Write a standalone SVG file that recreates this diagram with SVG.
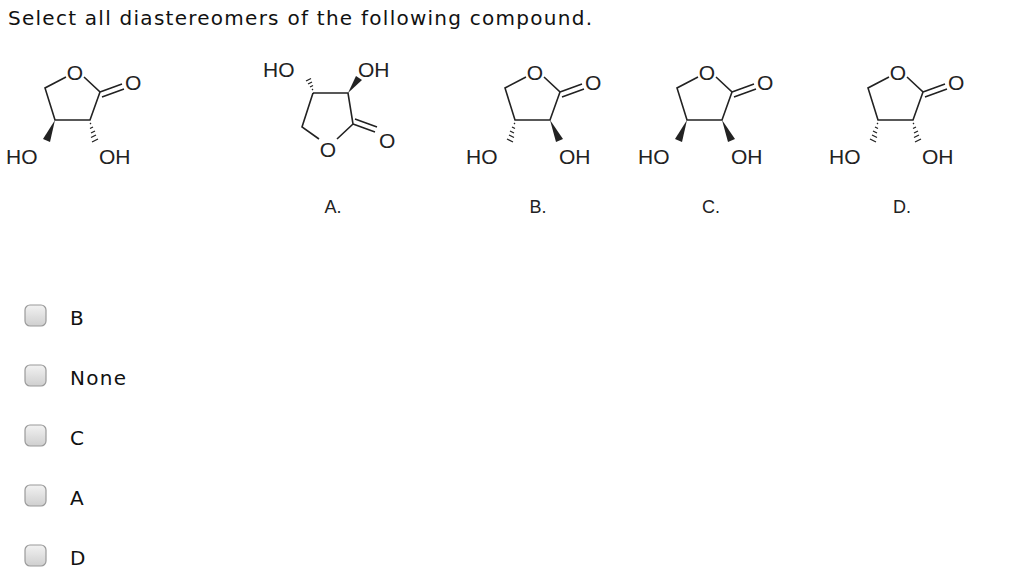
<svg xmlns="http://www.w3.org/2000/svg" xmlns:xlink="http://www.w3.org/1999/xlink" width="1024" height="585" viewBox="0 0 1024 585">
<style>
.b{stroke:#222;stroke-width:1.6;fill:none}
.h{stroke:#222;stroke-width:1.3}
.t{font-family:"Liberation Sans",Arial,sans-serif;font-size:21px;fill:#222}
.q{font-family:"DejaVu Sans",Verdana,sans-serif;font-size:20px;fill:#111}
.o{font-family:"DejaVu Sans",Verdana,sans-serif;font-size:20px;fill:#111}
.lb{font-family:"Liberation Sans",Arial,sans-serif;font-size:18px;fill:#222;text-anchor:middle}
.cb{fill:url(#g);stroke:#9a9a9a;stroke-width:1.2}
</style>
<defs>
<linearGradient id="g" x1="0" y1="0" x2="0" y2="1"><stop offset="0" stop-color="#f2f2f2"/><stop offset="1" stop-color="#cfcfcf"/></linearGradient>
<g id="ring">
<path class="b" d="M66,77 L45,88 L55,120 L90,120 L100,92 L84,77 M100,92 L122,84 M102,97 L124,89"/>
<text class="t" x="75" y="80" text-anchor="middle">O</text>
<text class="t" x="125" y="90">O</text>
<text class="t" x="6" y="164">HO</text>
<text class="t" x="99" y="164">OH</text>
</g>
<polygon id="wl" points="55,120 43,139 50,142" fill="#222"/>
<polygon id="wr" points="90,120 96,142 103,139" fill="#222"/>
<g id="hl" class="h"><path d="M54,123 l1,1 M52,127 l3,1.5 M50,131 l4,2 M49,135 l5,2.5 M47,139 l6,3"/></g>
<g id="hr" class="h"><path d="M91,123 l-1,1 M93,127 l-3,1.5 M95,131 l-4,2 M96,135 l-5,2.5 M98,139 l-6,3"/></g>
</defs>
<text class="q" x="8" y="25" textLength="584" lengthAdjust="spacing">Select all diastereomers of the following compound.</text>
<g id="start"><use xlink:href="#ring"/><use xlink:href="#wl"/><use xlink:href="#hr"/></g>
<g id="molA">
<path class="b" d="M313,93 L348,93 L353,124 L337,139 M319,139 L302,127 L313,93 M353,124 L375,132 M355,119 L377,127"/>
<text class="t" x="328" y="157" text-anchor="middle">O</text>
<text class="t" x="379" y="148">O</text>
<text class="t" x="263" y="77">HO</text>
<text class="t" x="358" y="77">OH</text>
<path class="h" d="M312,90 l1,-1 M310,87 l3,-1.5 M308,84 l4,-2 M306,81 l5,-2.5"/>
<polygon points="348,93 356,76 362,80" fill="#222"/>
<text class="lb" x="333" y="213">A.</text>
</g>
<g id="molB" transform="translate(460,0)"><use xlink:href="#ring"/><use xlink:href="#hl"/><use xlink:href="#wr"/><text class="lb" x="78" y="213">B.</text></g>
<g id="molC" transform="translate(632,0)"><use xlink:href="#ring"/><use xlink:href="#wl"/><use xlink:href="#wr"/><text class="lb" x="79" y="213">C.</text></g>
<g id="molD" transform="translate(823,0)"><use xlink:href="#ring"/><use xlink:href="#hl"/><use xlink:href="#hr"/><text class="lb" x="79" y="213">D.</text></g>
<g id="opts">
<rect class="cb" x="25" y="305" width="21" height="21" rx="5"/><text class="o" x="70" y="325">B</text>
<rect class="cb" x="25" y="365" width="21" height="21" rx="5"/><text class="o" x="70" y="385" textLength="56" lengthAdjust="spacing">None</text>
<rect class="cb" x="25" y="425" width="21" height="21" rx="5"/><text class="o" x="70" y="445">C</text>
<rect class="cb" x="25" y="485" width="21" height="21" rx="5"/><text class="o" x="70" y="505">A</text>
<rect class="cb" x="25" y="545" width="21" height="21" rx="5"/><text class="o" x="70" y="565">D</text>
</g>
</svg>
